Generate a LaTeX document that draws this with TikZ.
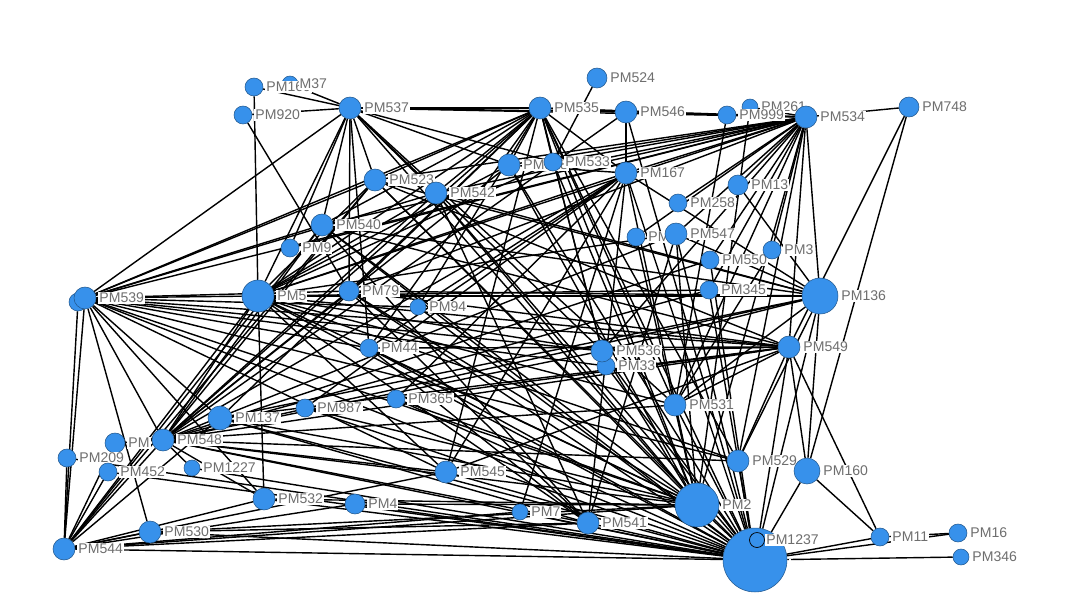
\documentclass[tikz,border=0pt]{standalone}
\usepackage{fontspec}
\setmainfont{Liberation Sans}
\pgfdeclarelayer{background}
\pgfsetlayers{background,main}
\definecolor{nodeblue}{RGB}{55,145,235}
\definecolor{labgray}{RGB}{110,110,110}
\tikzset{
  pm/.style={circle,fill=nodeblue,draw=nodeblue!60!black,line width=0.3pt,inner sep=0pt},
  pmlab/.style={fill=white,inner sep=0.6pt,text=labgray,font=\fontsize{8}{8}\selectfont,anchor=west},
  edge/.style={black,line width=0.8pt}
}
\newcommand\pmnode[5]{%
  \node[pm,minimum size=#4*0.04cm] (#1) at (#2,#3) {};
  \node[pmlab] (#1l) at ([xshift=1pt]#1.east) {#5};}
\begin{document}
\begin{tikzpicture}[x=0.02cm,y=-0.02cm]
\useasboundingbox (0,0) rectangle (1080,596);
\pmnode{PM37}{290}{84}{8}{}
\pmnode{PM169}{254}{87}{9}{PM169}
\node[pmlab] at (PM37.east) {M37};
\pmnode{PM920}{243}{115}{9}{PM920}
\pmnode{PM537}{350}{108}{11}{PM537}
\pmnode{PM524}{597}{78}{10}{PM524}
\pmnode{PM535}{540}{108}{11}{PM535}
\pmnode{PM546}{626}{112}{11}{PM546}
\pmnode{PM261}{750}{107}{8}{PM261}
\pmnode{PM999}{727}{115}{9}{PM999}
\pmnode{PM534}{806}{117}{11}{PM534}
\pmnode{PM748}{909}{107}{10}{PM748}
\pmnode{PM523}{375}{180}{11}{PM523}
\pmnode{PM542}{436}{193}{11}{PM542}
\pmnode{PM538}{509}{165}{11}{PM538}
\pmnode{PM533}{553}{162}{9}{PM533}
\pmnode{PM167}{626}{173}{11}{PM167}
\pmnode{PM13}{738}{185}{10}{PM13}
\pmnode{PM258}{678}{203}{9}{PM258}
\pmnode{PM540}{322}{225}{11}{PM540}
\pmnode{PM9}{290}{248}{9}{PM9}
\pmnode{PM6}{636}{237}{9}{PM6}
\pmnode{PM547}{676}{234}{11}{PM547}
\pmnode{PM550}{710}{260}{9}{PM550}
\pmnode{PM3}{772}{250}{9}{PM3}
\pmnode{PM345}{709}{290}{9}{PM345}
\pmnode{PM136}{820}{296}{18}{PM136}
\pmnode{PM12}{78}{302}{9}{}
\pmnode{PM539}{85}{298}{11}{PM539}
\pmnode{PM5}{258}{296}{16}{PM5}
\pmnode{PM79}{349}{291}{10}{PM79}
\pmnode{PM94}{418}{307}{8}{PM94}
\pmnode{PM44}{369}{348}{9}{PM44}
\pmnode{PM33}{606}{366}{9}{PM33}
\pmnode{PM536}{602}{351}{11}{PM536}
\pmnode{PM549}{789}{347}{11}{PM549}
\pmnode{PM531}{675}{405}{11}{PM531}
\pmnode{PM137}{220}{418}{12}{PM137}
\pmnode{PM987}{305}{408}{9}{PM987}
\pmnode{PM365}{396}{399}{9}{PM365}
\pmnode{PM14}{115}{443}{10}{PM}
\pmnode{PM548}{163}{440}{11}{PM548}
\pmnode{PM209}{67}{458}{9}{PM209}
\pmnode{PM452}{108}{472}{9}{PM452}
\pmnode{PM1227}{192}{468}{8}{PM1227}
\pmnode{PM545}{446}{472}{11}{PM545}
\pmnode{PM529}{738}{461}{11}{PM529}
\pmnode{PM160}{807}{471}{13}{PM160}
\pmnode{PM2}{697}{505}{22}{PM2}
\pmnode{PM532}{264}{499}{11}{PM532}
\pmnode{PM4}{355}{504}{10}{PM4}
\pmnode{PM7}{520}{512}{8}{PM7}
\pmnode{PM541}{588}{523}{11}{PM541}
\pmnode{PM530}{150}{532}{11}{PM530}
\pmnode{PM544}{64}{549}{11}{PM544}
\pmnode{PM1237}{755}{560}{32}{}
\node[circle,draw=black,fill=nodeblue,minimum size=0.3cm,inner sep=0pt] (PM1237c) at (757,540) {};
\node[pmlab] at (765,540) {PM1237};
\pmnode{PM11}{880}{537}{9}{PM11}
\pmnode{PM16}{958}{533}{9}{PM16}
\pmnode{PM346}{961}{557}{8}{PM346}
\begin{pgfonlayer}{background}
\foreach \b in {PM2,PM529,PM531,PM536,PM549,PM160,PM136,PM545,PM541,PM7,PM4,PM532,PM530,PM544,PM11,PM16,PM346,PM548,PM137,PM5,PM539,PM365,PM987,PM44,PM94,PM79,PM540,PM523,PM542,PM538,PM535,PM546,PM167,PM547,PM550,PM345,PM1227,PM452,PM209,PM33}
  \draw[edge] (PM1237) -- (\b);
\foreach \b in {PM748,PM999,PM546,PM535,PM537,PM13,PM258,PM547,PM550,PM3,PM345,PM136,PM549,PM531,PM529,PM2,PM167,PM542,PM538,PM533,PM523,PM540,PM9,PM5,PM79,PM539,PM536,PM261,PM6}
  \draw[edge] (PM534) -- (\b);
\foreach \b in {PM537,PM535,PM523,PM542,PM540,PM5,PM79,PM94,PM44,PM137,PM548,PM544,PM530,PM532,PM545,PM2,PM529,PM549,PM536,PM33,PM12}
  \draw[edge] (PM539) -- (\b);
\foreach \b in {PM169,PM920,PM535,PM546,PM523,PM542,PM540,PM9,PM5,PM79,PM44,PM536,PM531,PM2,PM538,PM533,PM37}
  \draw[edge] (PM537) -- (\b);
\foreach \b in {PM546,PM523,PM542,PM538,PM533,PM167,PM540,PM5,PM79,PM94,PM44,PM536,PM33,PM531,PM529,PM2,PM545,PM548,PM137,PM999}
  \draw[edge] (PM535) -- (\b);
\foreach \b in {PM530,PM548,PM137,PM5,PM540,PM523,PM2,PM541,PM7,PM4,PM532,PM545,PM209,PM452,PM12,PM14}
  \draw[edge] (PM544) -- (\b);
\foreach \b in {PM5,PM137,PM548,PM540,PM542,PM523,PM79,PM44,PM987,PM365,PM536,PM531,PM547,PM167,PM538,PM533,PM532,PM4,PM530,PM6}
  \draw[edge] (PM2) -- (\b);
\foreach \b in {PM5,PM540,PM542,PM523,PM79,PM137,PM548,PM536,PM531,PM529,PM160,PM547,PM167,PM13}
  \draw[edge] (PM136) -- (\b);
\foreach \b in {PM5,PM79,PM540,PM523,PM137,PM548,PM44,PM365,PM545,PM531,PM536,PM529,PM160,PM11,PM748}
  \draw[edge] (PM549) -- (\b);
\foreach \b in {PM5,PM79,PM540,PM523,PM542,PM538,PM546,PM167,PM547,PM550,PM345,PM536,PM531,PM529,PM545,PM532,PM541,PM1227,PM14}
  \draw[edge] (PM548) -- (\b);
\foreach \b in {PM523,PM542,PM538,PM533,PM167,PM547,PM345,PM536,PM531,PM529,PM545,PM541,PM532}
  \draw[edge] (PM5) -- (\b);
\foreach \b in {PM137,PM540,PM79,PM44,PM542,PM167,PM547,PM530}
  \draw[edge] (PM541) -- (\b);
\foreach \b in {PM546,PM538,PM94,PM44,PM365,PM987,PM545,PM7}
  \draw[edge] (PM167) -- (\b);
\draw[edge] (PM11) -- (PM160);
\draw[edge] (PM11) -- (PM16);
\draw[edge] (PM748) -- (PM160);
\draw[edge] (PM920) -- (PM79);
\draw[edge] (PM524) -- (PM533);
\draw[edge] (PM169) -- (PM5);
\draw[edge] (PM999) -- (PM531);
\draw[edge] (PM261) -- (PM2);
\draw[edge] (PM3) -- (PM531);
\end{pgfonlayer}
\end{tikzpicture}
\end{document}
